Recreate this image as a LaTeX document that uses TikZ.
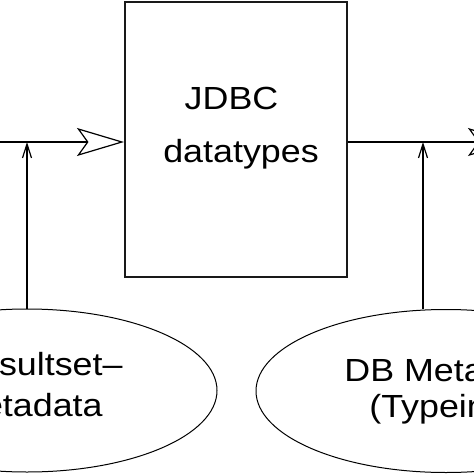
\documentclass[tikz,border=0pt]{standalone}
\usepackage{fontspec}
\setmainfont{Liberation Sans}[FakeStretch=1.12]
\usetikzlibrary{arrows.meta,shapes.geometric}
\begin{document}
\begin{tikzpicture}[x=1pt,y=-1pt,
 boxst/.style={draw=black!90, line width=2pt, minimum width=222pt, minimum height=275.5pt, inner sep=0pt},
 ellst/.style={draw, ellipse, line width=1pt, minimum width=380pt, minimum height=163pt, inner sep=0pt},
 lbl/.style={anchor=base, inner sep=0pt, font=\fontsize{32}{38}\selectfont},
 lblleft/.style={lbl, anchor=base west},
 flow/.style={line width=1.2pt, -{Stealth[length=47pt,width=28pt,inset=10pt,open,fill=white]}},
 feed/.style={line width=1.2pt, -{Straight Barb[length=14pt,width=9pt]}}]
\useasboundingbox (0,0) rectangle (474,474);
\clip (0,0) rectangle (474,474);
\node[boxst] (box) at (236,139.25) {};
\node[ellst] (resL) at (27,390.5) {};
\node[ellst] (dbM) at (446,391) {};
\node[lbl] (t1) at (231.5,109) {JDBC};
\node[lbl] (t2) at (241,162) {datatypes};
\node[lblleft] (t3) at (-47,375) {Resultset–};
\node[lblleft] (t4) at (-47,416) {Metadata};
\node[lbl] (t5) at (449,381) {DB Metadata};
\node[lbl] (t6) at (449,417) {(Typeinfo)};
\coordinate (inL) at (0,142);
\coordinate (outR) at (515,142);
\coordinate (vR) at (423,142);
\draw[flow] (inL) -- (inL -| box.west);
\draw[flow] (inL -| box.east) -- (outR);
\draw[feed] (resL.north) -- (resL.north |- inL);
\draw[feed] (vR |- dbM.north) -- (vR);
\end{tikzpicture}
\end{document}
